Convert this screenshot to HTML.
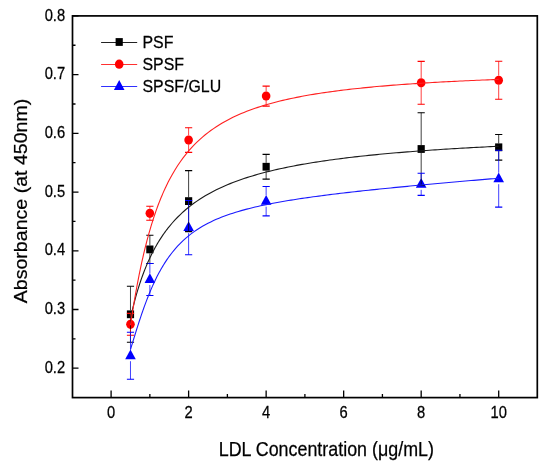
<!DOCTYPE html><html><head><meta charset="utf-8"><style>html,body{margin:0;padding:0;background:#fff}svg{display:block}text{font-family:"Liberation Sans",sans-serif;fill:#000;stroke:#000;stroke-width:0.25px}</style></head><body>
<svg width="550" height="468" viewBox="0 0 550 468">
<rect width="550" height="468" fill="#fff"/>
<rect x="126.88" y="310.4" width="7.2" height="7.8" fill="#000"/>
<rect x="146.26" y="245.5" width="7.2" height="7.8" fill="#000"/>
<rect x="185.02" y="197.2" width="7.2" height="7.8" fill="#000"/>
<rect x="262.54" y="162.85" width="7.2" height="7.8" fill="#000"/>
<rect x="417.58" y="145.1" width="7.2" height="7.8" fill="#000"/>
<rect x="495.1" y="143.4" width="7.2" height="7.8" fill="#000"/>
<ellipse cx="130.48" cy="324.3" rx="4.3" ry="4.6" fill="#f00"/>
<ellipse cx="149.86" cy="213.3" rx="4.3" ry="4.6" fill="#f00"/>
<ellipse cx="188.62" cy="140.05" rx="4.3" ry="4.6" fill="#f00"/>
<ellipse cx="266.14" cy="96.1" rx="4.3" ry="4.6" fill="#f00"/>
<ellipse cx="421.18" cy="82.85" rx="4.3" ry="4.6" fill="#f00"/>
<ellipse cx="498.7" cy="80.25" rx="4.3" ry="4.6" fill="#f00"/>
<path d="M130.48 349.4 L135.78 359.2 L125.18 359.2 Z" fill="#00f"/>
<path d="M149.86 273.2 L155.16 283 L144.56 283 Z" fill="#00f"/>
<path d="M188.62 221.3 L193.92 231.1 L183.32 231.1 Z" fill="#00f"/>
<path d="M266.14 194.9 L271.44 204.7 L260.84 204.7 Z" fill="#00f"/>
<path d="M421.18 178 L426.48 187.8 L415.88 187.8 Z" fill="#00f"/>
<path d="M498.7 172.4 L504 182.2 L493.4 182.2 Z" fill="#00f"/>
<path d="M130.48 286.3 V310.4 M130.48 318.2 V342.3" stroke="#000" stroke-width="0.75" fill="none"/>
<path d="M126.88 286.3 H134.08 M126.88 342.3 H134.08" stroke="#000" stroke-width="1.1" fill="none"/>
<path d="M149.86 235.3 V245.5 M149.86 253.3 V263.5" stroke="#000" stroke-width="0.75" fill="none"/>
<path d="M146.26 235.3 H153.46 M146.26 263.5 H153.46" stroke="#000" stroke-width="1.1" fill="none"/>
<path d="M188.62 170.6 V197.2 M188.62 205 V231.6" stroke="#000" stroke-width="0.75" fill="none"/>
<path d="M185.02 170.6 H192.22 M185.02 231.6 H192.22" stroke="#000" stroke-width="1.1" fill="none"/>
<path d="M266.14 154.4 V162.85 M266.14 170.65 V179.1" stroke="#000" stroke-width="0.75" fill="none"/>
<path d="M262.54 154.4 H269.74 M262.54 179.1 H269.74" stroke="#000" stroke-width="1.1" fill="none"/>
<path d="M421.18 112.7 V145.1 M421.18 152.9 V185.3" stroke="#000" stroke-width="0.75" fill="none"/>
<path d="M417.58 112.7 H424.78 M417.58 185.3 H424.78" stroke="#000" stroke-width="1.1" fill="none"/>
<path d="M498.7 134.5 V143.4 M498.7 151.2 V160.1" stroke="#000" stroke-width="0.75" fill="none"/>
<path d="M495.1 134.5 H502.3 M495.1 160.1 H502.3" stroke="#000" stroke-width="1.1" fill="none"/>
<path d="M130.48 313.4 V319.7 M130.48 328.9 V335.2" stroke="#f00" stroke-width="0.75" fill="none"/>
<path d="M126.88 313.4 H134.08 M126.88 335.2 H134.08" stroke="#ff0000" stroke-width="1.1" fill="none"/>
<path d="M149.86 206.3 V208.7 M149.86 217.9 V220.3" stroke="#f00" stroke-width="0.75" fill="none"/>
<path d="M146.26 206.3 H153.46 M146.26 220.3 H153.46" stroke="#ff0000" stroke-width="1.1" fill="none"/>
<path d="M188.62 127.7 V135.45 M188.62 144.65 V152.4" stroke="#f00" stroke-width="0.75" fill="none"/>
<path d="M185.02 127.7 H192.22 M185.02 152.4 H192.22" stroke="#ff0000" stroke-width="1.1" fill="none"/>
<path d="M266.14 86.1 V91.5 M266.14 100.7 V106.1" stroke="#f00" stroke-width="0.75" fill="none"/>
<path d="M262.54 86.1 H269.74 M262.54 106.1 H269.74" stroke="#ff0000" stroke-width="1.1" fill="none"/>
<path d="M421.18 61.4 V78.25 M421.18 87.45 V104.3" stroke="#f00" stroke-width="0.75" fill="none"/>
<path d="M417.58 61.4 H424.78 M417.58 104.3 H424.78" stroke="#ff0000" stroke-width="1.1" fill="none"/>
<path d="M498.7 61.25 V75.65 M498.7 84.85 V99.25" stroke="#f00" stroke-width="0.75" fill="none"/>
<path d="M495.1 61.25 H502.3 M495.1 99.25 H502.3" stroke="#ff0000" stroke-width="1.1" fill="none"/>
<path d="M130.48 332.2 V349.7 M130.48 361.2 V379.2" stroke="#00f" stroke-width="0.75" fill="none"/>
<path d="M126.88 332.2 H134.08 M126.88 379.2 H134.08" stroke="#0000ff" stroke-width="1.1" fill="none"/>
<path d="M149.86 263.5 V273.5 M149.86 285 V295.5" stroke="#00f" stroke-width="0.75" fill="none"/>
<path d="M146.26 263.5 H153.46 M146.26 295.5 H153.46" stroke="#0000ff" stroke-width="1.1" fill="none"/>
<path d="M188.62 200.45 V221.6 M188.62 233.1 V254.75" stroke="#00f" stroke-width="0.75" fill="none"/>
<path d="M185.02 200.45 H192.22 M185.02 254.75 H192.22" stroke="#0000ff" stroke-width="1.1" fill="none"/>
<path d="M266.14 186.5 V195.2 M266.14 206.7 V215.9" stroke="#00f" stroke-width="0.75" fill="none"/>
<path d="M262.54 186.5 H269.74 M262.54 215.9 H269.74" stroke="#0000ff" stroke-width="1.1" fill="none"/>
<path d="M421.18 173.2 V178.3 M421.18 189.8 V195.4" stroke="#00f" stroke-width="0.75" fill="none"/>
<path d="M417.58 173.2 H424.78 M417.58 195.4 H424.78" stroke="#0000ff" stroke-width="1.1" fill="none"/>
<path d="M498.7 150.3 V172.7 M498.7 184.2 V207.1" stroke="#00f" stroke-width="0.75" fill="none"/>
<path d="M495.1 150.3 H502.3 M495.1 207.1 H502.3" stroke="#0000ff" stroke-width="1.1" fill="none"/>
<path d="M130.48 318.1 L131.14 315.18 L131.79 312.34 L132.45 309.59 L133.11 306.91 L133.76 304.32 L134.42 301.8 L135.08 299.35 L135.74 296.96 L136.39 294.64 L137.05 292.39 L137.71 290.19 L138.36 288.05 L139.02 285.97 L139.68 283.94 L140.33 281.96 L140.99 280.02 L141.65 278.14 L142.31 276.3 L142.96 274.51 L143.62 272.76 L144.28 271.05 L144.93 269.37 L145.59 267.74 L146.25 266.15 L146.9 264.58 L147.56 263.06 L148.22 261.57 L148.87 260.11 L149.53 258.68 L150.19 257.28 L150.85 255.91 L151.5 254.57 L152.16 253.25 L152.82 251.96 L153.47 250.7 L154.13 249.47 L154.79 248.26 L155.44 247.07 L156.1 245.9 L156.76 244.76 L157.41 243.64 L158.07 242.54 L158.73 241.46 L159.39 240.4 L160.04 239.36 L160.7 238.33 L161.36 237.33 L162.01 236.35 L162.67 235.38 L163.33 234.43 L163.98 233.49 L164.64 232.57 L165.3 231.67 L165.96 230.78 L166.61 229.91 L167.27 229.05 L167.93 228.21 L168.58 227.37 L169.24 226.56 L172.01 223.25 L174.78 220.16 L177.55 217.26 L180.31 214.53 L183.08 211.97 L185.85 209.54 L188.62 207.25 L191.39 205.09 L194.16 203.03 L196.93 201.09 L199.69 199.23 L202.46 197.47 L205.23 195.79 L208 194.19 L210.77 192.66 L213.54 191.2 L216.31 189.8 L219.07 188.46 L221.84 187.18 L224.61 185.95 L227.38 184.77 L230.15 183.63 L232.92 182.54 L235.69 181.48 L238.45 180.47 L241.22 179.49 L243.99 178.55 L246.76 177.64 L249.53 176.76 L252.3 175.92 L255.07 175.1 L257.83 174.3 L260.6 173.53 L263.37 172.79 L266.14 172.07 L268.91 171.37 L271.68 170.69 L274.45 170.04 L277.21 169.4 L279.98 168.78 L282.75 168.18 L285.52 167.59 L288.29 167.02 L291.06 166.47 L293.83 165.93 L296.59 165.41 L299.36 164.9 L302.13 164.4 L304.9 163.92 L307.67 163.44 L310.44 162.98 L313.21 162.53 L315.97 162.1 L318.74 161.67 L321.51 161.25 L324.28 160.84 L327.05 160.44 L329.82 160.06 L332.59 159.67 L335.35 159.3 L338.12 158.94 L340.89 158.58 L343.66 158.24 L346.43 157.9 L349.2 157.56 L351.97 157.24 L354.73 156.92 L357.5 156.6 L360.27 156.3 L363.04 156 L365.81 155.7 L368.58 155.41 L371.35 155.13 L374.11 154.85 L376.88 154.58 L379.65 154.31 L382.42 154.05 L385.19 153.8 L387.96 153.54 L390.73 153.3 L393.49 153.05 L396.26 152.81 L399.03 152.58 L401.8 152.35 L404.57 152.12 L407.34 151.9 L410.11 151.68 L412.87 151.47 L415.64 151.26 L418.41 151.05 L421.18 150.84 L423.95 150.64 L426.72 150.44 L429.49 150.25 L432.25 150.06 L435.02 149.87 L437.79 149.69 L440.56 149.5 L443.33 149.32 L446.1 149.15 L448.87 148.97 L451.63 148.8 L454.4 148.63 L457.17 148.47 L459.94 148.3 L462.71 148.14 L465.48 147.98 L468.25 147.83 L471.01 147.67 L473.78 147.52 L476.55 147.37 L479.32 147.22 L482.09 147.08 L484.86 146.93 L487.63 146.79 L490.39 146.65 L493.16 146.51 L495.93 146.38 L498.7 146.24" fill="none" stroke="#1a1a1a" stroke-width="1.1"/>
<path d="M130.48 325.25 L131.14 320.88 L131.79 316.61 L132.45 312.44 L133.11 308.35 L133.76 304.36 L134.42 300.45 L135.08 296.64 L135.74 292.91 L136.39 289.26 L137.05 285.7 L137.71 282.21 L138.36 278.81 L139.02 275.48 L139.68 272.23 L140.33 269.05 L140.99 265.95 L141.65 262.91 L142.31 259.94 L142.96 257.04 L143.62 254.21 L144.28 251.44 L144.93 248.73 L145.59 246.08 L146.25 243.49 L146.9 240.95 L147.56 238.47 L148.22 236.05 L148.87 233.68 L149.53 231.35 L150.19 229.08 L150.85 226.86 L151.5 224.69 L152.16 222.56 L152.82 220.48 L153.47 218.44 L154.13 216.44 L154.79 214.48 L155.44 212.57 L156.1 210.69 L156.76 208.85 L157.41 207.05 L158.07 205.29 L158.73 203.56 L159.39 201.87 L160.04 200.2 L160.7 198.58 L161.36 196.98 L162.01 195.42 L162.67 193.88 L163.33 192.38 L163.98 190.9 L164.64 189.45 L165.3 188.03 L165.96 186.64 L166.61 185.27 L167.27 183.93 L167.93 182.61 L168.58 181.31 L169.24 180.05 L172.01 174.94 L174.78 170.2 L177.55 165.8 L180.31 161.71 L183.08 157.89 L185.85 154.32 L188.62 150.98 L191.39 147.85 L194.16 144.91 L196.93 142.15 L199.69 139.55 L202.46 137.1 L205.23 134.79 L208 132.6 L210.77 130.53 L213.54 128.58 L216.31 126.72 L219.07 124.96 L221.84 123.28 L224.61 121.69 L227.38 120.18 L230.15 118.73 L232.92 117.35 L235.69 116.04 L238.45 114.78 L241.22 113.58 L243.99 112.43 L246.76 111.33 L249.53 110.27 L252.3 109.26 L255.07 108.29 L257.83 107.36 L260.6 106.46 L263.37 105.6 L266.14 104.77 L268.91 103.97 L271.68 103.2 L274.45 102.46 L277.21 101.74 L279.98 101.05 L282.75 100.39 L285.52 99.75 L288.29 99.13 L291.06 98.52 L293.83 97.94 L296.59 97.38 L299.36 96.84 L302.13 96.31 L304.9 95.8 L307.67 95.31 L310.44 94.83 L313.21 94.36 L315.97 93.91 L318.74 93.47 L321.51 93.05 L324.28 92.63 L327.05 92.23 L329.82 91.84 L332.59 91.46 L335.35 91.09 L338.12 90.73 L340.89 90.38 L343.66 90.04 L346.43 89.71 L349.2 89.39 L351.97 89.07 L354.73 88.77 L357.5 88.47 L360.27 88.18 L363.04 87.89 L365.81 87.61 L368.58 87.34 L371.35 87.08 L374.11 86.82 L376.88 86.57 L379.65 86.32 L382.42 86.08 L385.19 85.85 L387.96 85.62 L390.73 85.39 L393.49 85.17 L396.26 84.96 L399.03 84.75 L401.8 84.54 L404.57 84.34 L407.34 84.14 L410.11 83.95 L412.87 83.76 L415.64 83.58 L418.41 83.4 L421.18 83.22 L423.95 83.05 L426.72 82.88 L429.49 82.71 L432.25 82.54 L435.02 82.38 L437.79 82.23 L440.56 82.07 L443.33 81.92 L446.1 81.77 L448.87 81.63 L451.63 81.48 L454.4 81.34 L457.17 81.2 L459.94 81.07 L462.71 80.93 L465.48 80.8 L468.25 80.68 L471.01 80.55 L473.78 80.43 L476.55 80.3 L479.32 80.18 L482.09 80.07 L484.86 79.95 L487.63 79.84 L490.39 79.73 L493.16 79.62 L495.93 79.51 L498.7 79.4" fill="none" stroke="#ff2020" stroke-width="1.1"/>
<path d="M130.48 349.52 L131.14 347.37 L131.79 345.21 L132.45 343.06 L133.11 340.9 L133.76 338.76 L134.42 336.62 L135.08 334.49 L135.74 332.37 L136.39 330.27 L137.05 328.18 L137.71 326.11 L138.36 324.06 L139.02 322.04 L139.68 320.03 L140.33 318.05 L140.99 316.09 L141.65 314.15 L142.31 312.24 L142.96 310.35 L143.62 308.5 L144.28 306.67 L144.93 304.86 L145.59 303.09 L146.25 301.34 L146.9 299.62 L147.56 297.93 L148.22 296.26 L148.87 294.63 L149.53 293.02 L150.19 291.44 L150.85 289.88 L151.5 288.36 L152.16 286.86 L152.82 285.39 L153.47 283.95 L154.13 282.53 L154.79 281.14 L155.44 279.77 L156.1 278.43 L156.76 277.12 L157.41 275.83 L158.07 274.56 L158.73 273.32 L159.39 272.1 L160.04 270.91 L160.7 269.73 L161.36 268.58 L162.01 267.46 L162.67 266.35 L163.33 265.27 L163.98 264.2 L164.64 263.16 L165.3 262.13 L165.96 261.13 L166.61 260.14 L167.27 259.18 L167.93 258.23 L168.58 257.3 L169.24 256.38 L172.01 252.72 L174.78 249.34 L177.55 246.21 L180.31 243.31 L183.08 240.63 L185.85 238.13 L188.62 235.81 L191.39 233.65 L194.16 231.63 L196.93 229.74 L199.69 227.97 L202.46 226.31 L205.23 224.76 L208 223.29 L210.77 221.91 L213.54 220.6 L216.31 219.36 L219.07 218.19 L221.84 217.08 L224.61 216.03 L227.38 215.02 L230.15 214.07 L232.92 213.15 L235.69 212.28 L238.45 211.44 L241.22 210.64 L243.99 209.87 L246.76 209.13 L249.53 208.42 L252.3 207.74 L255.07 207.08 L257.83 206.44 L260.6 205.82 L263.37 205.22 L266.14 204.65 L268.91 204.09 L271.68 203.54 L274.45 203.01 L277.21 202.5 L279.98 202 L282.75 201.51 L285.52 201.04 L288.29 200.58 L291.06 200.12 L293.83 199.68 L296.59 199.25 L299.36 198.82 L302.13 198.41 L304.9 198 L307.67 197.61 L310.44 197.21 L313.21 196.83 L315.97 196.45 L318.74 196.08 L321.51 195.72 L324.28 195.36 L327.05 195 L329.82 194.66 L332.59 194.31 L335.35 193.97 L338.12 193.64 L340.89 193.31 L343.66 192.99 L346.43 192.66 L349.2 192.35 L351.97 192.03 L354.73 191.72 L357.5 191.41 L360.27 191.11 L363.04 190.81 L365.81 190.51 L368.58 190.22 L371.35 189.92 L374.11 189.63 L376.88 189.35 L379.65 189.06 L382.42 188.78 L385.19 188.5 L387.96 188.22 L390.73 187.94 L393.49 187.67 L396.26 187.4 L399.03 187.13 L401.8 186.86 L404.57 186.59 L407.34 186.33 L410.11 186.06 L412.87 185.8 L415.64 185.54 L418.41 185.28 L421.18 185.02 L423.95 184.76 L426.72 184.51 L429.49 184.25 L432.25 184 L435.02 183.75 L437.79 183.5 L440.56 183.25 L443.33 183 L446.1 182.75 L448.87 182.51 L451.63 182.26 L454.4 182.02 L457.17 181.77 L459.94 181.53 L462.71 181.29 L465.48 181.05 L468.25 180.81 L471.01 180.57 L473.78 180.33 L476.55 180.09 L479.32 179.85 L482.09 179.62 L484.86 179.38 L487.63 179.15 L490.39 178.91 L493.16 178.68 L495.93 178.44 L498.7 178.21" fill="none" stroke="#1a1aff" stroke-width="1.1"/>
<rect x="72.5" y="15.9" width="464.8" height="381.7" fill="none" stroke="#000" stroke-width="1.7"/>
<path d="M72.5 368.22 H78.5 M72.5 338.86 H75.5 M72.5 309.5 H78.5 M72.5 280.14 H75.5 M72.5 250.78 H78.5 M72.5 221.42 H75.5 M72.5 192.06 H78.5 M72.5 162.7 H75.5 M72.5 133.34 H78.5 M72.5 103.98 H75.5 M72.5 74.62 H78.5 M72.5 45.26 H75.5 M72.5 15.9 H78.5 M111.1 397.6 V390.6 M149.86 397.6 V394.1 M188.62 397.6 V390.6 M227.38 397.6 V394.1 M266.14 397.6 V390.6 M304.9 397.6 V394.1 M343.66 397.6 V390.6 M382.42 397.6 V394.1 M421.18 397.6 V390.6 M459.94 397.6 V394.1 M498.7 397.6 V390.6" stroke="#000" stroke-width="1.3" fill="none"/>
<text transform="translate(65.1 372.82) scale(0.92 1)" text-anchor="end" font-size="16">0.2</text>
<text transform="translate(65.1 314.1) scale(0.92 1)" text-anchor="end" font-size="16">0.3</text>
<text transform="translate(65.1 255.38) scale(0.92 1)" text-anchor="end" font-size="16">0.4</text>
<text transform="translate(65.1 196.66) scale(0.92 1)" text-anchor="end" font-size="16">0.5</text>
<text transform="translate(65.1 137.94) scale(0.92 1)" text-anchor="end" font-size="16">0.6</text>
<text transform="translate(65.1 79.22) scale(0.92 1)" text-anchor="end" font-size="16">0.7</text>
<text transform="translate(65.1 20.5) scale(0.92 1)" text-anchor="end" font-size="16">0.8</text>
<text transform="translate(111.1 418.3) scale(0.92 1)" text-anchor="middle" font-size="16">0</text>
<text transform="translate(188.62 418.3) scale(0.92 1)" text-anchor="middle" font-size="16">2</text>
<text transform="translate(266.14 418.3) scale(0.92 1)" text-anchor="middle" font-size="16">4</text>
<text transform="translate(343.66 418.3) scale(0.92 1)" text-anchor="middle" font-size="16">6</text>
<text transform="translate(421.18 418.3) scale(0.92 1)" text-anchor="middle" font-size="16">8</text>
<text transform="translate(498.7 418.3) scale(0.92 1)" text-anchor="middle" font-size="16">10</text>
<text transform="translate(326.3 455.8) scale(0.912 1)" text-anchor="middle" font-size="19.6">LDL Concentration (μg/mL)</text>
<text transform="translate(26.8 201) rotate(-90) scale(1 0.9)" text-anchor="middle" font-size="19.6">Absorbance (at 450nm)</text>
<path d="M101.1 42.5 H137.2" stroke="#222" stroke-width="1"/>
<rect x="115.6" y="38.1" width="7.2" height="7.8" fill="#000"/>
<text transform="translate(142.5 47.6) scale(0.92 1)" font-size="17.3">PSF</text>
<path d="M101.1 64.5 H137.2" stroke="#ff3030" stroke-width="1"/>
<ellipse cx="119.2" cy="64.2" rx="4.3" ry="4.6" fill="#f00"/>
<text transform="translate(142.5 69.8) scale(0.92 1)" font-size="17.3">SPSF</text>
<path d="M101.1 86.5 H137.2" stroke="#3030ff" stroke-width="1"/>
<path d="M119.2 80.1 L124.5 89.9 L113.9 89.9 Z" fill="#00f"/>
<text transform="translate(142.5 92) scale(0.92 1)" font-size="17.3">SPSF/GLU</text>
</svg></body></html>
